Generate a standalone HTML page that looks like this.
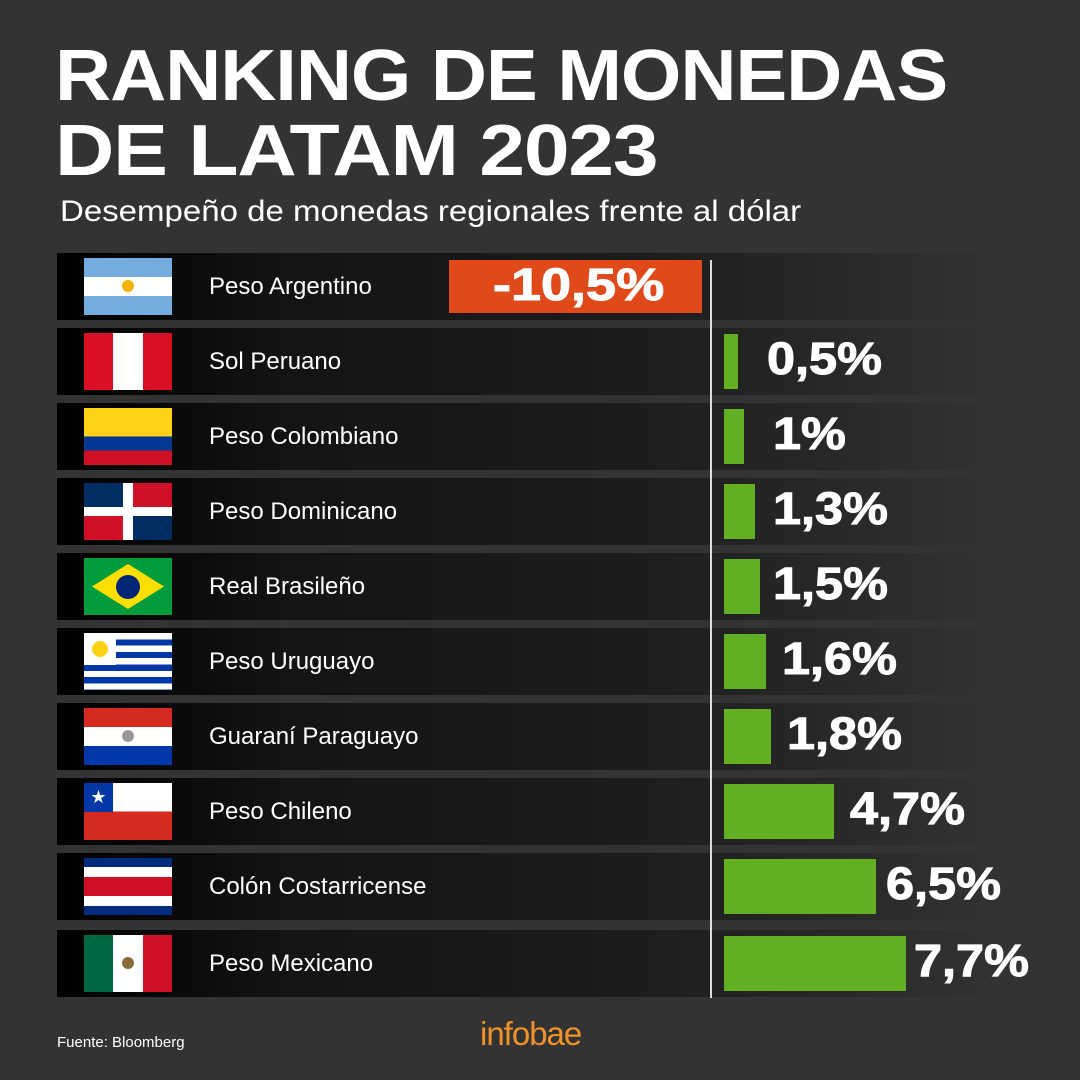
<!DOCTYPE html>
<html><head><meta charset="utf-8"><style>
*{margin:0;padding:0;box-sizing:border-box}
body{width:1080px;height:1080px;background:#333333;position:relative;overflow:hidden;font-family:"Liberation Sans",sans-serif;color:#fff}
.t{position:absolute;left:55px;font-weight:900;font-size:72px;letter-spacing:-1px;line-height:1;transform:scaleX(1.08);transform-origin:left}
.sub{position:absolute;left:60px;top:195px;font-size:30px;transform:scaleX(1.1);transform-origin:left}
.row{position:absolute;left:57px;width:950px;height:67px;background:linear-gradient(90deg,#000 0%,#141414 25%,#1c1c1c 60%,#2a2a2a 85%,#333 100%)}
.flag{position:absolute;left:27px;top:5px;width:88px;height:57px;overflow:hidden}
.lab{position:absolute;left:152px;top:20px;font-size:24px}
.bar{position:absolute;left:667px;top:6px;height:55px;background:#62b022}
.val{position:absolute;top:5px;font-size:45px;font-weight:900;letter-spacing:0px;transform:scaleX(1.12);transform-origin:left;-webkit-text-stroke:1px #fff}
.vl{position:absolute;left:710px;top:260px;width:2px;height:738px;background:#ddd}
</style></head><body>
<div class="t" style="top:40px">RANKING DE MONEDAS</div>
<div class="t" style="top:115px;transform:scaleX(1.14)">DE LATAM 2023</div>
<div class="sub">Desempeño de monedas regionales frente al dólar</div>

<div class="row" style="top:253px">
 <div class="flag" style="background:linear-gradient(#74acdf 33%,#fff 33%,#fff 67%,#74acdf 67%)"><div style="position:absolute;left:38px;top:22px;width:12px;height:12px;border-radius:50%;background:#f6b40e"></div></div>
 <div class="lab">Peso Argentino</div>
 <div style="position:absolute;left:392px;top:7px;width:253px;height:53px;background:#e04a1a"></div>
 <div class="val" style="left:436px;top:6px;transform:scaleX(1.2)">-10,5%</div>
</div>
<div class="row" style="top:328px">
 <div class="flag" style="background:linear-gradient(90deg,#d91023 33%,#fff 33%,#fff 67%,#d91023 67%)"></div>
 <div class="lab">Sol Peruano</div>
 <div class="bar" style="width:14px"></div><div class="val" style="left:710px">0,5%</div>
</div>
<div class="row" style="top:403px">
 <div class="flag" style="background:linear-gradient(#fcd116 50%,#003893 50%,#003893 75%,#ce1126 75%)"></div>
 <div class="lab">Peso Colombiano</div>
 <div class="bar" style="width:20px"></div><div class="val" style="left:716px">1%</div>
</div>
<div class="row" style="top:478px">
 <div class="flag" style="background:#fff"><div style="position:absolute;left:0;top:0;width:39px;height:24px;background:#002d62"></div><div style="position:absolute;right:0;top:0;width:39px;height:24px;background:#ce1126"></div><div style="position:absolute;left:0;bottom:0;width:39px;height:24px;background:#ce1126"></div><div style="position:absolute;right:0;bottom:0;width:39px;height:24px;background:#002d62"></div></div>
 <div class="lab">Peso Dominicano</div>
 <div class="bar" style="width:31px"></div><div class="val" style="left:716px">1,3%</div>
</div>
<div class="row" style="top:553px">
 <div class="flag" style="background:#009c3b"><div style="position:absolute;left:8px;top:6px;width:72px;height:45px;background:#ffdf00;clip-path:polygon(50% 0,100% 50%,50% 100%,0 50%)"></div><div style="position:absolute;left:32px;top:17px;width:24px;height:24px;border-radius:50%;background:#002776"></div></div>
 <div class="lab">Real Brasileño</div>
 <div class="bar" style="width:36px"></div><div class="val" style="left:716px">1,5%</div>
</div>
<div class="row" style="top:628px">
 <div class="flag" style="background:repeating-linear-gradient(#fff 0,#fff 6.3px,#0038a8 6.3px,#0038a8 12.6px)"><div style="position:absolute;left:0;top:0;width:32px;height:32px;background:#fff"></div><div style="position:absolute;left:8px;top:8px;width:16px;height:16px;border-radius:50%;background:#fcd116"></div></div>
 <div class="lab">Peso Uruguayo</div>
 <div class="bar" style="width:42px"></div><div class="val" style="left:725px">1,6%</div>
</div>
<div class="row" style="top:703px">
 <div class="flag" style="background:linear-gradient(#d52b1e 33%,#fff 33%,#fff 67%,#0038a8 67%)"><div style="position:absolute;left:38px;top:22px;width:12px;height:12px;border-radius:50%;background:#999"></div></div>
 <div class="lab">Guaraní Paraguayo</div>
 <div class="bar" style="width:47px"></div><div class="val" style="left:730px">1,8%</div>
</div>
<div class="row" style="top:778px">
 <div class="flag" style="background:linear-gradient(#fff 50%,#d52b1e 50%)"><div style="position:absolute;left:0;top:0;width:29px;height:29px;background:#0039a6;color:#fff;font-size:18px;text-align:center;line-height:29px">★</div></div>
 <div class="lab">Peso Chileno</div>
 <div class="bar" style="width:110px"></div><div class="val" style="left:793px">4,7%</div>
</div>
<div class="row" style="top:853px">
 <div class="flag" style="background:linear-gradient(#002b7f 16%,#fff 16%,#fff 33%,#ce1126 33%,#ce1126 67%,#fff 67%,#fff 84%,#002b7f 84%)"></div>
 <div class="lab">Colón Costarricense</div>
 <div class="bar" style="width:152px"></div><div class="val" style="left:829px">6,5%</div>
</div>
<div class="row" style="top:930px">
 <div class="flag" style="background:linear-gradient(90deg,#006847 33%,#fff 33%,#fff 67%,#ce1126 67%)"><div style="position:absolute;left:38px;top:22px;width:12px;height:12px;border-radius:50%;background:#8a6a3a"></div></div>
 <div class="lab">Peso Mexicano</div>
 <div class="bar" style="width:182px"></div><div class="val" style="left:857px">7,7%</div>
</div>
<div class="vl"></div>
<div style="position:absolute;left:57px;top:1034px;font-size:15px">Fuente: Bloomberg</div>
<div style="position:absolute;left:480px;top:1015px;font-size:33px;color:#f0922a;letter-spacing:-1px">infobae</div>
</body></html>
